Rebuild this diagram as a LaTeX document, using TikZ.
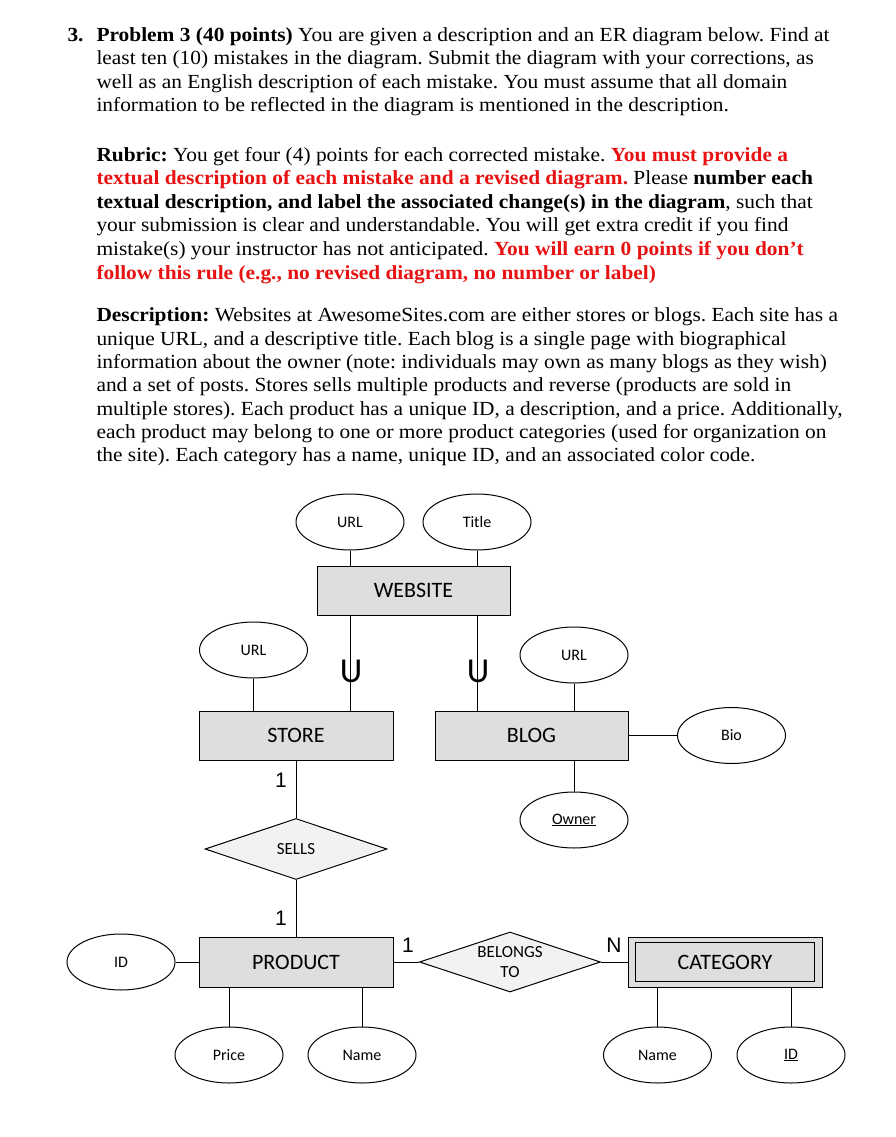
\documentclass[tikz,border=0pt]{standalone}
\usepackage{fontspec}
\setmainfont{Liberation Serif}[FakeStretch=1.07]
\newfontfamily\dia{Carlito}
\newfontfamily\arl{Liberation Sans}
\usetikzlibrary{shapes.geometric}
\definecolor{entgray}{RGB}{222,222,222}
\definecolor{relgray}{RGB}{242,242,242}
\definecolor{hired}{RGB}{232,18,18}
\newcommand{\rb}[1]{\textcolor{hired}{\textbf{#1}}}
\frenchspacing
\begin{document}
\begin{tikzpicture}[x=1pt,y=-1pt,line width=1pt,
  txt/.style={anchor=base west,inner sep=0,font=\fontsize{20}{24}\selectfont},
  entity/.style={draw,fill=entgray,inner sep=0,minimum width=194,minimum height=49,font=\dia\fontsize{22}{26}\selectfont},
  attr/.style={ellipse,draw,fill=white,inner sep=0,minimum width=108,minimum height=56,font=\dia\fontsize{16}{19}\selectfont},
  rel/.style={diamond,draw,fill=relgray,inner sep=0,shape aspect=3,minimum width=182,minimum height=61},
  reltext/.style={inner sep=0,align=center,font=\dia\fontsize{17}{20}\selectfont},
  card/.style={inner sep=0,font=\arl\fontsize{21}{24}\selectfont},
  usym/.style={inner sep=0,font=\dia\fontsize{35}{40}\selectfont}]
\useasboundingbox[fill=white] (0,0) rectangle (896,1137);
% --- problem text ---
\node[txt] (n3) at (67,41.5) {\textbf{3.}};
\node[txt] (p1) at (96,41.5) {\textbf{Problem 3 (40 points)} You are given a description and an ER diagram below. Find at};
\node[txt] (p2) at (96,65) {least ten (10) mistakes in the diagram. Submit the diagram with your corrections, as};
\node[txt] (p3) at (96,88.5) {well as an English description of each mistake. You must assume that all domain};
\node[txt] (p4) at (96,112) {information to be reflected in the diagram is mentioned in the description.};
\node[txt] (r1) at (96,161) {\textbf{Rubric:} You get four (4) points for each corrected mistake. \rb{You must provide a}};
\node[txt] (r2) at (96,184.6) {\rb{textual description of each mistake and a revised diagram.} Please \textbf{number each}};
\node[txt] (r3) at (96,208.2) {\textbf{textual description, and label the associated change(s) in the diagram}, such that};
\node[txt] (r4) at (96,231.8) {your submission is clear and understandable. You will get extra credit if you find};
\node[txt] (r5) at (96,255.4) {mistake(s) your instructor has not anticipated. \rb{You will earn 0 points if you don’t}};
\node[txt] (r6) at (96,279) {\rb{follow this rule (e.g., no revised diagram, no number or label)}};
\node[txt] (d1) at (96,321.7) {\textbf{Description:} Websites at AwesomeSites.com are either stores or blogs. Each site has a};
\node[txt] (d2) at (96,345) {unique URL, and a descriptive title. Each blog is a single page with biographical};
\node[txt] (d3) at (96,368.4) {information about the owner (note: individuals may own as many blogs as they wish)};
\node[txt] (d4) at (96,391.7) {and a set of posts. Stores sells multiple products and reverse (products are sold in};
\node[txt] (d5) at (96,415) {multiple stores). Each product has a unique ID, a description, and a price. Additionally,};
\node[txt] (d6) at (96,438.4) {each product may belong to one or more product categories (used for organization on};
\node[txt] (d7) at (96,461.7) {the site). Each category has a name, unique ID, and an associated color code.};
% --- diagram ---
\node[entity,minimum width=193] (web) at (413.5,590.5) {WEBSITE};
\node[attr] (wurl) at (350,522) {URL};
\node[attr] (wtitle) at (477,522) {Title};
\draw (wurl) -- (wurl |- web.north);
\draw (wtitle) -- (wtitle |- web.north);
\node[entity] (store) at (296,735.5) {STORE};
\node[entity,minimum width=193] (blog) at (531.5,735.5) {BLOG};
\draw (web.south -| wurl) -- (store.north -| wurl);
\draw (web.south -| wtitle) -- (blog.north -| wtitle);
\node[usym] (u1) at (351,671) {U};
\node[usym] (u2) at (478,671) {U};
\node[attr] (surl) at (253.5,650) {URL};
\draw (surl) -- (surl |- store.north);
\node[attr] (burl) at (574,655) {URL};
\draw (burl) -- (burl |- blog.north);
\node[attr] (bio) at (731.5,735.5) {Bio};
\draw (blog) -- (bio);
\node[attr] (owner) at (574,820) {\underline{Owner}};
\draw (owner) -- (owner |- blog.south);
\node[rel] (sells) at (296,849) {};
\node[reltext] (sellsT) at (sells) {SELLS};
\draw (store) -- (sells);
\node[card] (c1) at (281,780) {1};
\node[entity,minimum height=50] (product) at (296,962) {PRODUCT};
\draw (sells) -- (product);
\node[card] (c2) at (281,918) {1};
\node[attr] (pid) at (121,962) {ID};
\draw (pid) -- (product);
\node[attr] (price) at (229,1055) {Price};
\draw (price) -- (price |- product.south);
\node[attr] (pname) at (362,1055) {Name};
\draw (pname) -- (pname |- product.south);
\node[rel,minimum width=181,minimum height=60] (belongs) at (510,962) {};
\node[reltext] (belongsT) at (belongs) {BELONGS\\TO};
\draw (product) -- (belongs);
\node[card] (c3) at (408,945) {1};
\node[entity,minimum height=50] (cat) at (725,962) {};
\node[draw,inner sep=0,minimum width=179,minimum height=39,font=\dia\fontsize{22}{26}\selectfont] (catin) at (725,962) {CATEGORY};
\draw (belongs) -- (cat);
\node[card] (cn) at (614,945) {N};
\node[attr] (cname) at (657.5,1055) {Name};
\draw (cname) -- (cname |- cat.south);
\node[attr] (cid) at (791,1055) {\underline{ID}};
\draw (cid) -- (cid |- cat.south);
\end{tikzpicture}
\end{document}
